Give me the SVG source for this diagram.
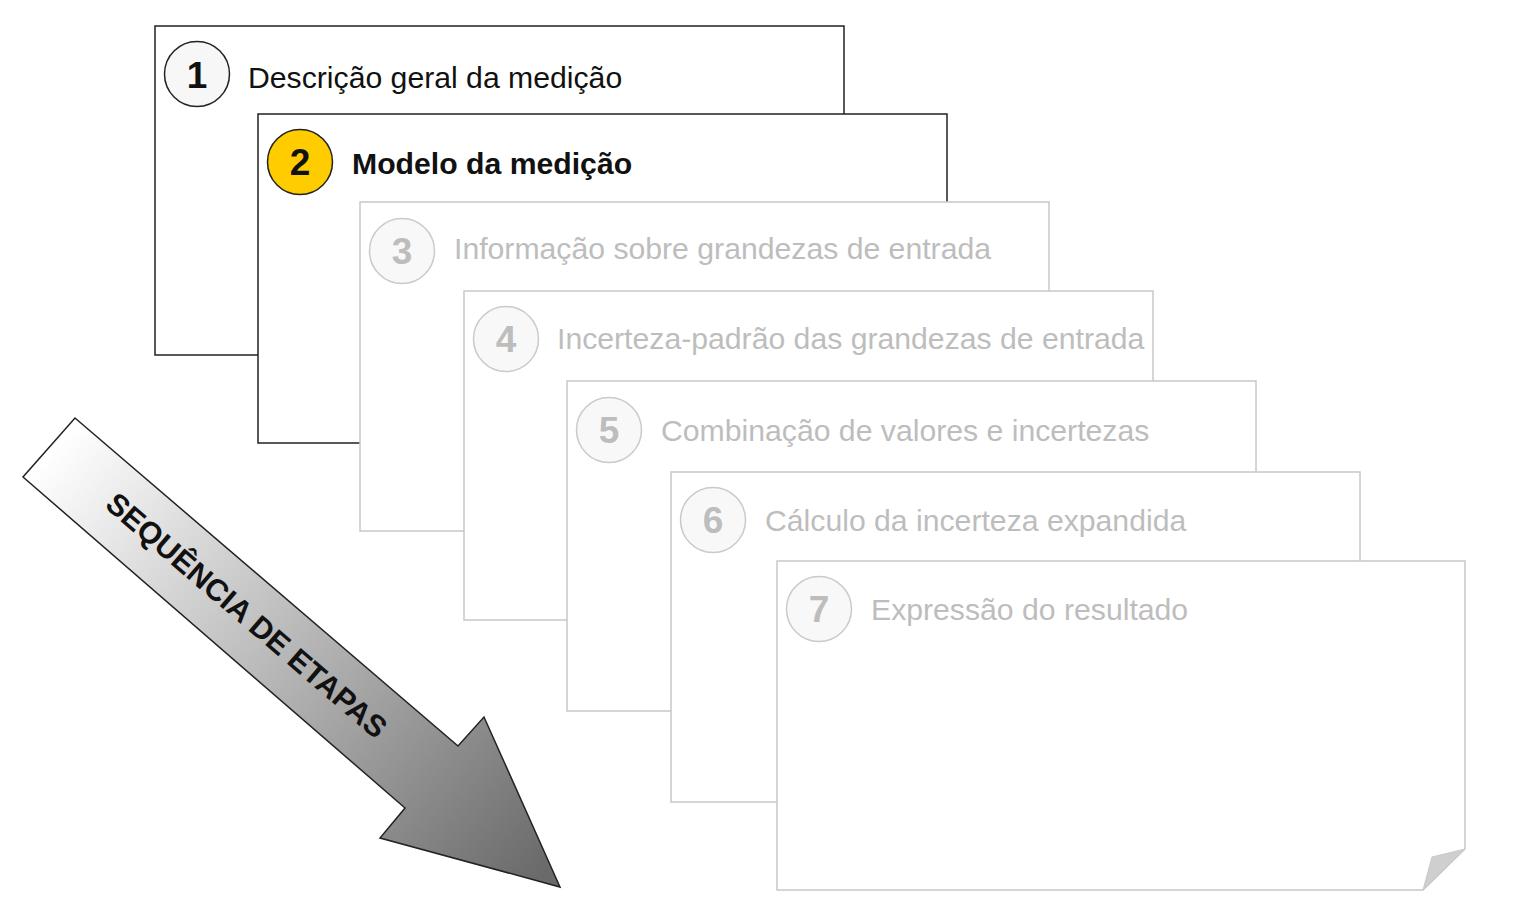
<svg xmlns="http://www.w3.org/2000/svg" width="1536" height="922" viewBox="0 0 1536 922">
<style>
.card{fill:#fff;stroke-width:1.5}
.dark{stroke:#222}
.light{stroke:#c8c8c8}
.num{font-family:"Liberation Sans",Arial,sans-serif;font-weight:bold;font-size:37px;text-anchor:middle}
.lbl{font-family:"Liberation Sans",Arial,sans-serif;font-size:30.2px}
.gtxt{fill:#bdbdbd}
.btxt{fill:#111}
.circD{fill:#f7f7f7;stroke:#222;stroke-width:1.5}
.circY{fill:#ffcc00;stroke:#222;stroke-width:1.5}
.circL{fill:#f8f8f8;stroke:#cacaca;stroke-width:1.5}
</style>
<defs>
<linearGradient id="ag" gradientUnits="userSpaceOnUse" x1="60" y1="440" x2="545" y2="870">
<stop offset="0" stop-color="#ffffff"/>
<stop offset="1" stop-color="#6a6a6a"/>
</linearGradient>
</defs>
<rect width="1536" height="922" fill="#fff"/>
<g id="card1">
<rect class="card dark" x="155" y="26" width="689" height="329"/>
<circle class="circD" cx="197" cy="74" r="32.5"/>
<text class="num btxt" x="197" y="88">1</text>
<text class="lbl btxt" x="248" y="88">Descrição geral da medição</text>
</g>
<g id="card2">
<rect class="card dark" x="258" y="114" width="689" height="329"/>
<circle class="circY" cx="300" cy="162" r="32.5"/>
<text class="num btxt" x="300" y="175">2</text>
<text class="lbl btxt" x="352" y="174" font-weight="bold">Modelo da medição</text>
</g>
<g id="card3">
<rect class="card light" x="360" y="202" width="689" height="329"/>
<circle class="circL" cx="402" cy="251" r="32.5"/>
<text class="num gtxt" x="402" y="264">3</text>
<text class="lbl gtxt" x="454" y="259">Informação sobre grandezas de entrada</text>
</g>
<g id="card4">
<rect class="card light" x="464" y="291" width="689" height="329"/>
<circle class="circL" cx="506" cy="339" r="32.5"/>
<text class="num gtxt" x="506" y="352">4</text>
<text class="lbl gtxt" x="557" y="349">Incerteza-padrão das grandezas de entrada</text>
</g>
<g id="card5">
<rect class="card light" x="567" y="381" width="689" height="330"/>
<circle class="circL" cx="609" cy="430" r="32.5"/>
<text class="num gtxt" x="609" y="443">5</text>
<text class="lbl gtxt" x="661" y="441">Combinação de valores e incertezas</text>
</g>
<g id="card6">
<rect class="card light" x="671" y="472" width="689" height="330"/>
<circle class="circL" cx="713" cy="520" r="32.5"/>
<text class="num gtxt" x="713" y="533">6</text>
<text class="lbl gtxt" x="765" y="531">Cálculo da incerteza expandida</text>
</g>
<g id="card7">
<path class="card light" d="M777,561 H1465 V849 L1423,890 H777 Z"/>
<path d="M1465,849 L1432,857 L1423,890 Z" fill="#cfcfcf" stroke="#c8c8c8" stroke-width="1"/>
<circle class="circL" cx="819" cy="609" r="32.5"/>
<text class="num gtxt" x="819" y="622">7</text>
<text class="lbl gtxt" x="871" y="620">Expressão do resultado</text>
</g>
<g id="arrow">
<path d="M75,418 L458,746 L484,717 L560,887 L380,838 L405,808 L23,477 Z" fill="url(#ag)" stroke="#222" stroke-width="1.5" stroke-linejoin="miter"/>
<text transform="translate(247,615) rotate(40.6)" y="11" text-anchor="middle" font-family="'Liberation Sans',Arial,sans-serif" font-weight="bold" font-size="30.5" fill="#111">SEQUÊNCIA DE ETAPAS</text>
</g>
</svg>
